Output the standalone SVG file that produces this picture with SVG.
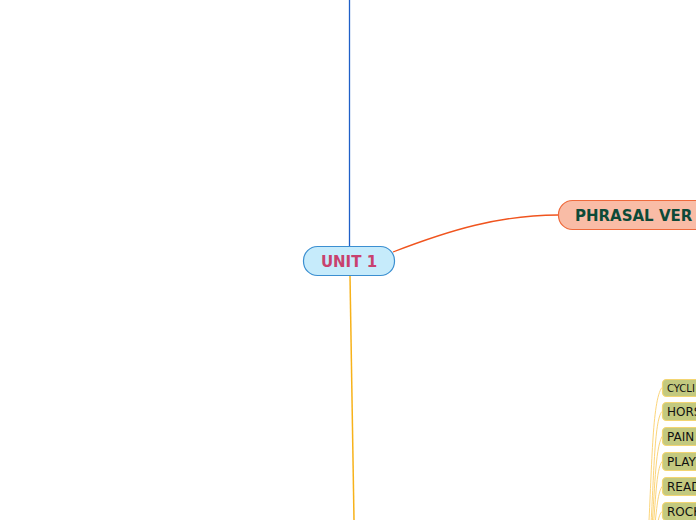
<svg xmlns="http://www.w3.org/2000/svg" width="696" height="520" viewBox="0 0 696 520">
<style>
.t{font-family:"DejaVu Sans",Verdana,sans-serif;}
.main{font-weight:bold;font-size:15px;}
.leaf rect{fill:#c3c97f;stroke:#f3d572;stroke-width:1.2;}
.leaf text{font-family:"DejaVu Sans",Verdana,sans-serif;font-size:12px;fill:#111;}
.lc{fill:none;stroke:#fcd57a;stroke-width:1;}
</style>
<rect width="696" height="520" fill="#fff"/>
<g id="connectors">
<path d="M349.5 0 L349.5 246" stroke="#1f5fc8" stroke-width="1.3" fill="none"/>
<path d="M393 252 C450 230 500 215 558 215" stroke="#f0541e" stroke-width="1.3" fill="none"/>
<path d="M350 276 L354 520" stroke="#f7b21a" stroke-width="1.5" fill="none"/>
<path class="lc" d="M648 540 C652 470 652 400 662 387.5"/>
<path class="lc" d="M650 540 C654 480 654 420 662 411.5"/>
<path class="lc" d="M651 540 C655 490 655 450 662 436.5"/>
<path class="lc" d="M652 540 C656 500 656 470 662 461.5"/>
<path class="lc" d="M653 540 C657 510 657 495 662 486.5"/>
<path class="lc" d="M654 540 C658 525 658 515 662 511.5"/>
</g>
<g id="unit1">
<rect x="303.5" y="246.5" width="91" height="29" rx="14" fill="#c6ebfb" stroke="#3b8fd1" stroke-width="1.2"/>
<text class="t main" x="349" y="266.5" text-anchor="middle" fill="#c8416e">UNIT 1</text>
</g>
<g id="phrasal">
<rect x="558.5" y="200.5" width="160" height="29" rx="14" fill="#f9bca6" stroke="#ef6a3c" stroke-width="1.2"/>
<text class="t main" x="575" y="221" fill="#0c4a38">PHRASAL VER</text>
</g>
<g id="cycling" class="leaf">
<rect x="662.5" y="379.5" width="60" height="17" rx="4"/>
<text x="667" y="391.5" style="font-size:10px">CYCLI</text>
</g>
<g id="horse" class="leaf">
<rect x="662.5" y="402.5" width="60" height="18" rx="4"/>
<text x="667" y="416">HORS</text>
</g>
<g id="painting" class="leaf">
<rect x="662.5" y="427.5" width="60" height="18" rx="4"/>
<text x="667" y="441">PAIN</text>
</g>
<g id="playing" class="leaf">
<rect x="662.5" y="452.5" width="60" height="18" rx="4"/>
<text x="667" y="466">PLAY</text>
</g>
<g id="reading" class="leaf">
<rect x="662.5" y="477.5" width="60" height="18" rx="4"/>
<text x="667" y="491">READ</text>
</g>
<g id="rock" class="leaf">
<rect x="662.5" y="502.5" width="60" height="18" rx="4"/>
<text x="667" y="516">ROCK</text>
</g>
</svg>
